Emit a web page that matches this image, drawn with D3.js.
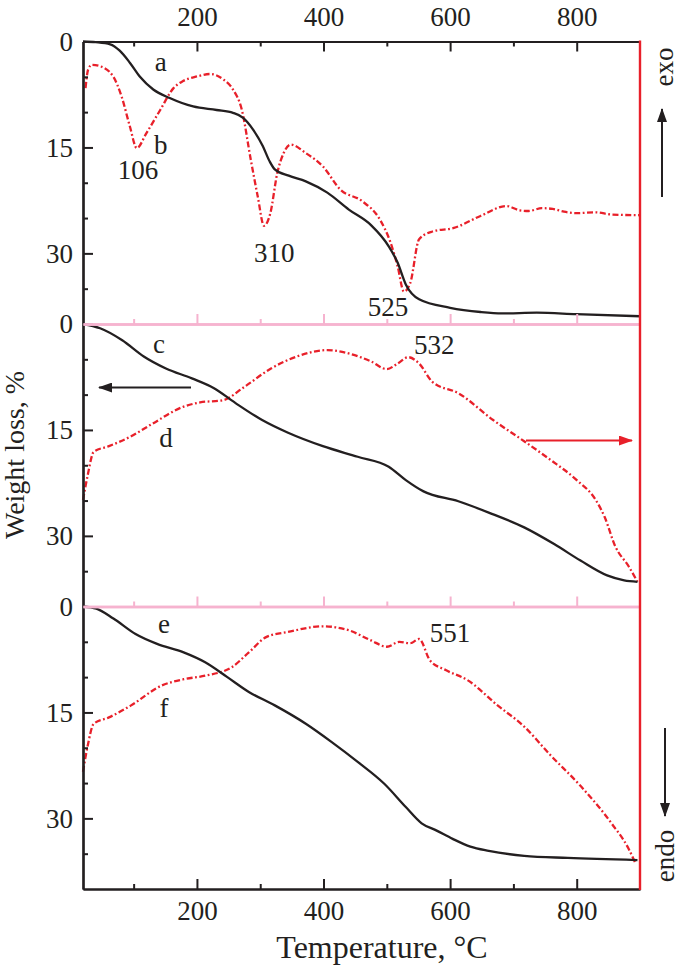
<!DOCTYPE html>
<html lang="en">
<head>
  <meta charset="UTF-8">
  <title>TG / DTA curves</title>
  <script src="https://d3js.org/d3.v7.min.js"></script>
  <style>
    body { margin: 0; background: #fff; }
    text { font-family: "Liberation Serif", "Times New Roman", serif; fill: #231f20; }
  </style>
</head>
<body>

<script>
// axis ticks
const tempMajor = [200, 400, 600, 800];
const tempMinor = [100, 300, 500, 700];
const lossMajor = [0, 15, 30];
const lossMinor = [5, 10, 20, 25, 35];

// panel 1 : TG curve a, DTA curve b  ([temperature, value])
const tgA = [[20,0],[40,0.1],[63,0.4],[78,1.3],[94,3],[110,5],[131,6.8],[157,8],[194,9.2],[231,9.7],
  [257,10.1],[273,10.8],[289,12.5],[304,14.8],[315,17],[323,18.1],[345,19],[372,19.8],[406,21.4],
  [440,23.8],[475,26],[503,29],[517,31.3],[530,34.4],[551,36.5],[600,37.7],[648,38.3],[682,38.5],
  [737,38.4],[799,38.6],[900,38.9]];
const dtaB = [[24,6.6],[28,4],[34,3.3],[47,3.5],[68,5],[81,7.8],[94,12],[105,15.1],[120,13],[142,9.7],
  [163,6.6],[178,5.6],[200,4.95],[221,4.6],[242,5.4],[257,6.8],[271,9.7],[285,16.7],[296,21.9],
  [306,26.1],[316,24.3],[327,18.6],[337,15.8],[348,14.6],[372,15.8],[399,17.7],[427,21],[461,22.6],
  [489,25.2],[506,28.5],[517,31.8],[527,35.4],[537,34.2],[551,28],[572,26.9],[606,26.4],[648,24.7],
  [689,23.3],[710,23.9],[724,24],[745,23.6],[762,23.7],[780,24.1],[800,24.3],[830,24.2],[855,24.5],[900,24.6]];

// panel 2 : TG curve c, DTA curve d
const tgC = [[20,0],[47,0.6],[82,2.3],[116,4.6],[151,6.3],[192,7.7],[227,9.1],[261,11.2],[303,13.6],
  [344,15.4],[399,17.3],[454,18.8],[503,20.2],[530,22.1],[558,23.7],[613,25.1],[661,26.7],[717,28.8],
  [765,31.2],[806,33.5],[848,35.6],[875,36.3],[896,36.5]];
const dtaD = [[20,24.9],[27,21.6],[37,18.1],[61,17.3],[96,15.9],[130,14.1],[179,11.7],[205,11.1],
  [241,10.8],[275,8.9],[317,6.3],[358,4.6],[406,3.7],[441,4.2],[475,5.3],[500,6.4],[517,5.6],
  [534,4.7],[551,5.6],[572,8.2],[613,9.8],[668,13.6],[717,16.6],[758,19.2],[800,22.1],[830,24.9],
  [844,27.3],[861,31.5],[882,34.3],[896,36.5]];

// panel 3 : TG curve e, DTA curve f
const tgE = [[20,0],[41,0.3],[68,1.7],[103,3.9],[137,5.3],[179,6.5],[213,7.9],[248,10],[282,12.1],
  [323,14],[372,16.6],[413,19.2],[454,22],[496,25.1],[530,28.4],[555,30.7],[578,31.7],[604,32.9],
  [632,34],[661,34.6],[717,35.3],[786,35.6],[896,35.9]];
const dtaF = [[20,23.4],[27,19.9],[37,16.6],[61,15.7],[96,14],[144,11.2],[179,10.3],[213,9.8],
  [255,8.6],[282,6.5],[310,4.3],[344,3.6],[399,2.8],[441,3.4],[475,4.8],[500,5.7],[520,5],[537,5.2],
  [551,4.6],[568,7.6],[593,9],[627,10.4],[675,14],[717,17],[758,21],[807,25.5],[855,30.7],[882,34.3],
  [893,36.4]];

// curve letters and peak temperatures: [text, panel, temperature, value]
const notes = [["a",0,143,4.2],["b",0,143,15.9],["106",0,107,19.5],["310",0,322,31.2],["525",0,502,38.9],
  ["c",1,140,4.1],["d",1,151,17.4],["532",1,575,4.2],
  ["e",2,148,3.75],["f",2,148,15.6],["551",2,600,5.0]];

const W = 685, H = 966;
const left = 83, right = 640, top0 = 41.5, panelH = 282.5;
const red = "#e8202a", pink = "#f6b3cf", ink = "#231f20";

const svg = d3.select("body").append("svg")
  .attr("width", W).attr("height", H);

const defs = svg.append("defs");
[["arrBlack", ink], ["arrRed", red]].forEach(([id, c]) => {
  defs.append("marker").attr("id", id)
    .attr("markerUnits", "userSpaceOnUse")
    .attr("markerWidth", 14).attr("markerHeight", 10)
    .attr("refX", 13).attr("refY", 5).attr("orient", "auto")
    .append("path").attr("d", "M0,0L14,5L0,10Z").attr("fill", c);
});

const x = d3.scaleLinear().domain([20, 900]).range([left, right]);

const panels = [
  { tg: tgA, dta: dtaB },
  { tg: tgC, dta: dtaD },
  { tg: tgE, dta: dtaF }
];

panels.forEach((p, i) => {
  const y = d3.scaleLinear().domain([0, 40]).range([top0 + i * panelH, top0 + (i + 1) * panelH]);
  p.y = y;
  const line = d3.line().x(d => x(d[0])).y(d => y(d[1])).curve(d3.curveMonotoneX);

  svg.append("path").datum(p.dta)
    .attr("d", line).attr("fill", "none")
    .attr("stroke", red).attr("stroke-width", 2.3)
    .attr("stroke-dasharray", "6,2.5,1.8,2.5");

  svg.append("path").datum(p.tg)
    .attr("d", line).attr("fill", "none")
    .attr("stroke", ink).attr("stroke-width", 2.3);

  // left axis
  const gMaj = svg.append("g").attr("transform", `translate(${left},0)`)
    .call(d3.axisLeft(y).tickValues(lossMajor).tickSize(-10).tickSizeOuter(0).tickPadding(10));
  const gMin = svg.append("g").attr("transform", `translate(${left},0)`)
    .call(d3.axisLeft(y).tickValues(lossMinor).tickSize(-5).tickSizeOuter(0).tickFormat(""));
  [gMaj, gMin].forEach(g => {
    g.select(".domain").attr("stroke", ink).attr("stroke-width", 2.2);
    g.selectAll(".tick line").attr("stroke", ink).attr("stroke-width", 2);
  });
  gMaj.selectAll("text").attr("font-size", 27).attr("font-family", "Liberation Serif").attr("fill", ink);

  // upper border of each panel
  if (i === 0) {
    const tMaj = svg.append("g").attr("transform", `translate(0,${y(0)})`)
      .call(d3.axisTop(x).tickValues(tempMajor).tickSize(-10).tickSizeOuter(0).tickPadding(16));
    const tMin = svg.append("g").attr("transform", `translate(0,${y(0)})`)
      .call(d3.axisTop(x).tickValues(tempMinor).tickSize(-5).tickSizeOuter(0).tickFormat(""));
    [tMaj, tMin].forEach(g => {
      g.select(".domain").attr("stroke", ink).attr("stroke-width", 2.2);
      g.selectAll(".tick line").attr("stroke", ink).attr("stroke-width", 2);
    });
    tMaj.selectAll("text").attr("font-size", 27).attr("font-family", "Liberation Serif").attr("fill", ink);
  } else {
    const sMaj = svg.append("g").attr("transform", `translate(0,${y(0)})`)
      .call(d3.axisTop(x).tickValues(tempMajor).tickSize(10).tickSizeOuter(0).tickFormat(""));
    const sMin = svg.append("g").attr("transform", `translate(0,${y(0)})`)
      .call(d3.axisTop(x).tickValues(tempMinor).tickSize(5).tickSizeOuter(0).tickFormat(""));
    [sMaj, sMin].forEach(g => {
      g.select(".domain").attr("stroke", pink).attr("stroke-width", 2.4);
      g.selectAll(".tick line").attr("stroke", pink).attr("stroke-width", 2);
    });
  }
});

// bottom axis
const yLast = panels[2].y;
const bMaj = svg.append("g").attr("transform", `translate(0,${yLast(40)})`)
  .call(d3.axisBottom(x).tickValues(tempMajor).tickSize(-10).tickSizeOuter(0).tickPadding(12));
const bMin = svg.append("g").attr("transform", `translate(0,${yLast(40)})`)
  .call(d3.axisBottom(x).tickValues(tempMinor).tickSize(-5).tickSizeOuter(0).tickFormat(""));
[bMaj, bMin].forEach(g => {
  g.select(".domain").attr("stroke", ink).attr("stroke-width", 2.2);
  g.selectAll(".tick line").attr("stroke", ink).attr("stroke-width", 2);
});
bMaj.selectAll("text").attr("font-size", 27).attr("font-family", "Liberation Serif").attr("fill", ink);

// red right border
svg.append("line")
  .attr("x1", right).attr("x2", right)
  .attr("y1", panels[0].y(0) - 1).attr("y2", yLast(40) + 1)
  .attr("stroke", red).attr("stroke-width", 2.4);

// annotations
svg.selectAll(".note").data(notes).enter().append("text")
  .attr("class", "note")
  .attr("x", d => x(d[2]))
  .attr("y", d => panels[d[1]].y(d[3]))
  .attr("text-anchor", "middle")
  .attr("font-size", 27)
  .text(d => d[0]);

// axis titles
svg.append("text")
  .attr("transform", "translate(24,455) rotate(-90)")
  .attr("text-anchor", "middle").attr("font-size", 28)
  .text("Weight loss, %");
svg.append("text")
  .attr("x", 382).attr("y", 958)
  .attr("text-anchor", "middle").attr("font-size", 32)
  .text("Temperature, °C");

// exo / endo
svg.append("text")
  .attr("transform", "translate(673,67) rotate(-90)")
  .attr("text-anchor", "middle").attr("font-size", 27)
  .text("exo");
svg.append("text")
  .attr("transform", "translate(674,856) rotate(-90)")
  .attr("text-anchor", "middle").attr("font-size", 27)
  .text("endo");

// arrows
svg.append("line").attr("x1", 662).attr("y1", 197).attr("x2", 662).attr("y2", 109)
  .attr("stroke", ink).attr("stroke-width", 2).attr("marker-end", "url(#arrBlack)");
svg.append("line").attr("x1", 665).attr("y1", 728).attr("x2", 665).attr("y2", 816)
  .attr("stroke", ink).attr("stroke-width", 2).attr("marker-end", "url(#arrBlack)");
svg.append("line").attr("x1", 191).attr("y1", panels[1].y(9)).attr("x2", 99).attr("y2", panels[1].y(9))
  .attr("stroke", ink).attr("stroke-width", 2).attr("marker-end", "url(#arrBlack)");
svg.append("line").attr("x1", 526).attr("y1", panels[1].y(16.5)).attr("x2", 632).attr("y2", panels[1].y(16.5))
  .attr("stroke", red).attr("stroke-width", 2).attr("marker-end", "url(#arrRed)");
</script>

</body>
</html>
